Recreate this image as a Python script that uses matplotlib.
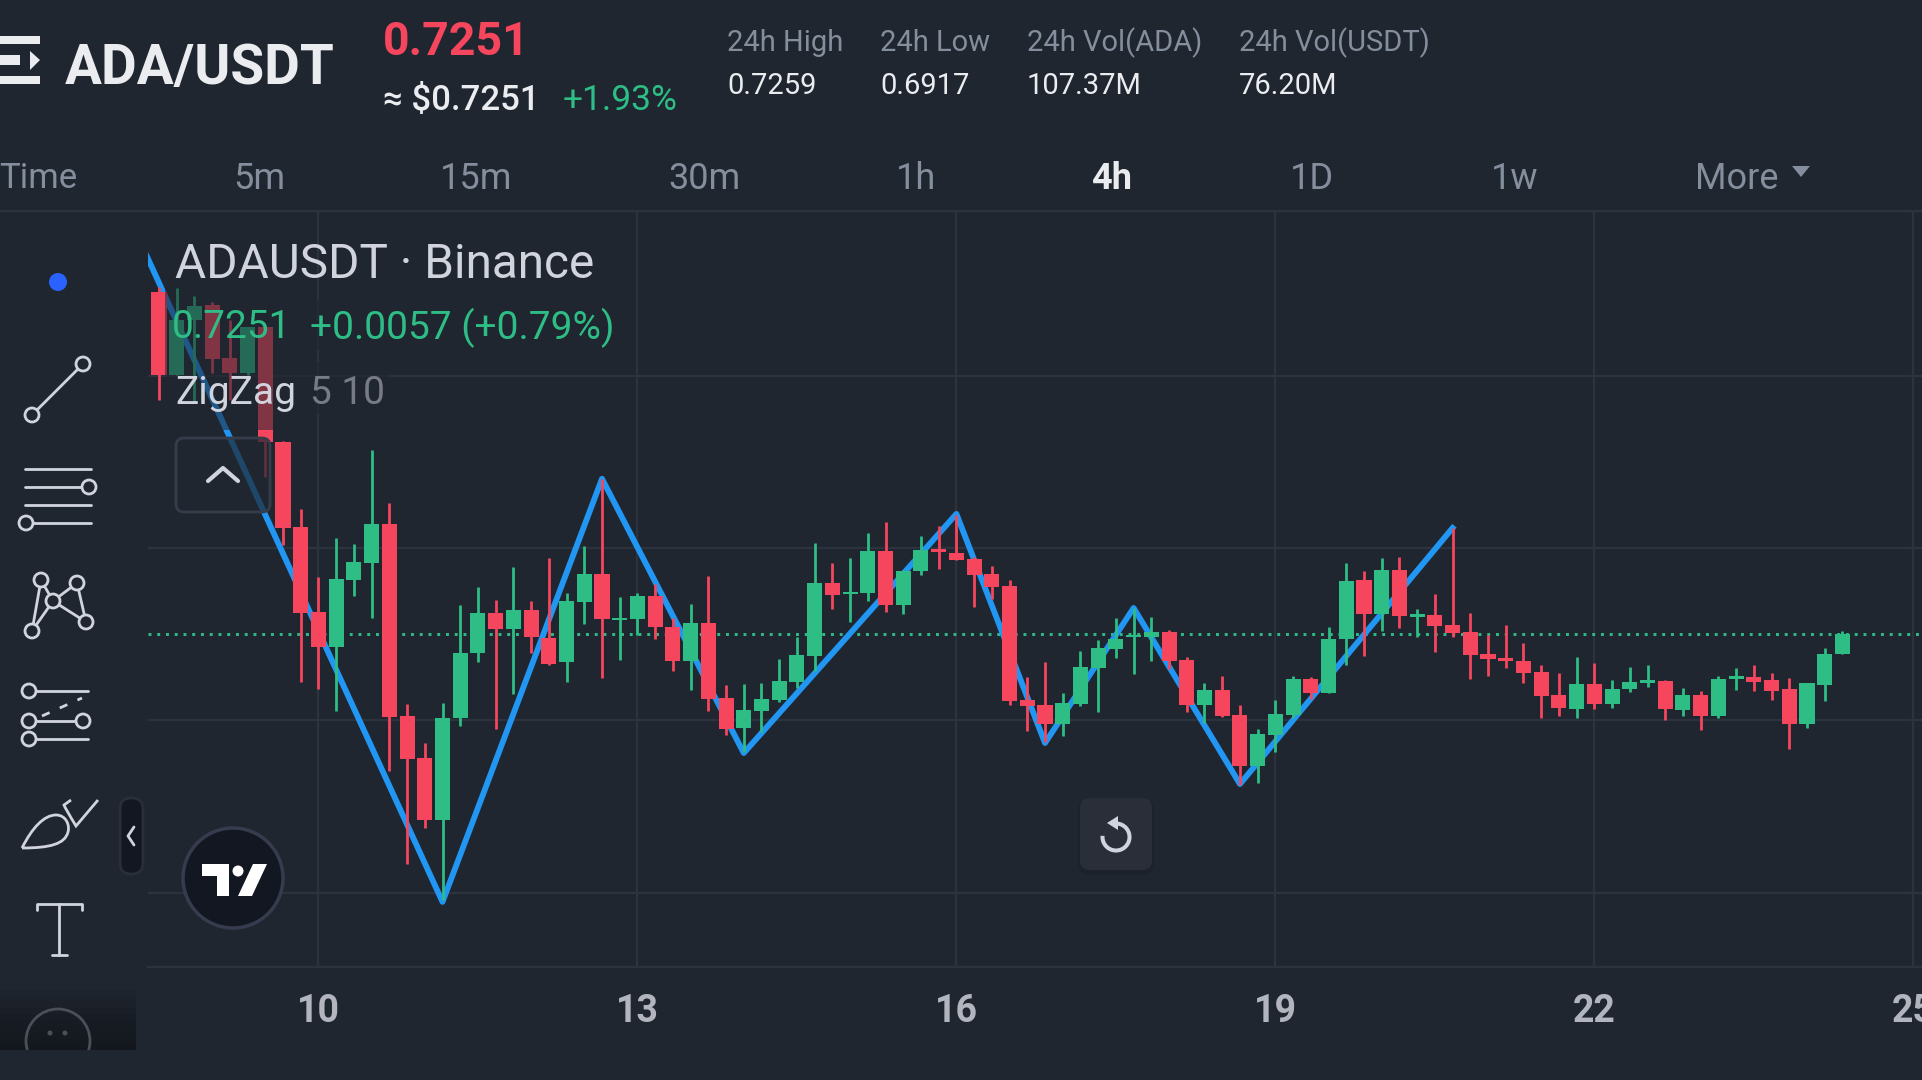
import matplotlib
matplotlib.use('Agg')
import matplotlib.pyplot as plt
from matplotlib.patches import Circle, FancyBboxPatch, Polygon, Rectangle, Arc, PathPatch
from matplotlib.path import Path

plt.rcParams['font.family'] = ['Roboto', 'DejaVu Sans']

# candles, 4h bars
opens = [.8243, .8002, .8162, .8205, .8052, .8008, .8142, .7808, .7561, .7315, .7214, .7407, .7457, .7570, .7013, .6891,
         .6711, .7008, .7196, .7312, .7266, .7321, .7240, .7170, .7344, .7425, .7291, .7294, .7361, .7271, .7172, .7283,
         .7065, .6978, .7027, .7059, .7112, .7187, .7399, .7367, .7370, .7492, .7335, .7434, .7497, .7486, .7468, .7425,
         .7390, .7059, .7045, .6990, .7048, .7152, .7208, .7243, .7243, .7257, .7175, .7045, .7089, .7016, .6868, .6958,
         .7016, .7121, .7080, .7237, .7407, .7309, .7436, .7300, .7306, .7277, .7257, .7193, .7181, .7172, .7141, .7074,
         .7033, .7106, .7048, .7092, .7109, .7115, .7030, .7074, .7013, .7121, .7126, .7118, .7092, .6990, .7103, .7193]
highs = [.8258, .8255, .8232, .8214, .8162, .8142, .8142, .7811, .7613, .7416, .7529, .7512, .7785, .7631, .7048, .6934,
         .7050, .7335, .7387, .7349, .7445, .7346, .7471, .7368, .7506, .7701, .7358, .7368, .7396, .7297, .7338, .7419,
         .7103, .7106, .7109, .7178, .7243, .7515, .7457, .7471, .7544, .7576, .7436, .7535, .7564, .7596, .7474, .7448,
         .7407, .7126, .7170, .7080, .7202, .7234, .7297, .7326, .7300, .7263, .7184, .7109, .7129, .7045, .6975, .7059,
         .7129, .7126, .7271, .7457, .7434, .7471, .7474, .7324, .7367, .7558, .7312, .7248, .7277, .7225, .7161, .7138,
         .7184, .7167, .7118, .7155, .7161, .7118, .7095, .7086, .7129, .7152, .7161, .7138, .7124, .7109, .7211, .7259]
lows = [.7930, .8002, .7921, .8008, .7930, .8002, .7706, .7509, .7112, .7092, .7027, .7361, .7297, .6853, .6583, .6688,
        .6479, .6984, .7170, .6975, .7077, .7196, .7161, .7112, .7280, .7124, .7175, .7248, .7237, .7144, .7089, .7027,
        .6958, .6908, .6967, .7053, .7095, .7144, .7324, .7286, .7346, .7315, .7309, .7422, .7439, .7465, .7329, .7352,
        .7045, .6970, .6938, .6955, .7042, .7024, .7181, .7135, .7172, .7150, .7024, .6992, .7010, .6813, .6818, .6908,
        .7007, .7062, .7080, .7161, .7187, .7260, .7269, .7243, .7199, .7243, .7121, .7129, .7152, .7109, .7007, .7013,
        .7007, .7033, .7036, .7083, .7097, .7001, .7013, .6973, .7007, .7089, .7086, .7059, .6917, .6978, .7056, .7193]
closes = [.8002, .8162, .8201, .8049, .8008, .8142, .7808, .7558, .7312, .7214, .7410, .7460, .7570, .7010, .6888, .6711,
          .7008, .7196, .7312, .7266, .7321, .7241, .7164, .7346, .7425, .7294, .7297, .7361, .7271, .7172, .7283, .7062,
          .6975, .7030, .7062, .7115, .7190, .7399, .7364, .7373, .7492, .7335, .7434, .7494, .7489, .7465, .7422, .7387,
          .7056, .7042, .6990, .7050, .7155, .7211, .7237, .7248, .7257, .7172, .7045, .7089, .7013, .6868, .6961, .7019,
          .7121, .7080, .7237, .7405, .7309, .7436, .7303, .7309, .7274, .7254, .7190, .7178, .7172, .7138, .7071, .7036,
          .7106, .7048, .7092, .7112, .7118, .7033, .7074, .7013, .7121, .7129, .7112, .7086, .6990, .7109, .7193, .7251]

# zigzag 5 10 pivots, bar index and price
zigzagBars = [-1, 16, 25, 33, 45, 50, 55, 61, 73]
zigzagPrices = [.8382, .6473, .7701, .6905, .7599, .6934, .7326, .6815, .7558]

lastPrice = 0.7251
dayTicks = [9, 27, 45, 63, 81, 99]
dayLabels = ['10', '13', '16', '19', '22', '25']
priceTicks = [0.65, 0.70, 0.75, 0.80]

tabs = ['5m', '15m', '30m', '1h', '4h', '1D', '1w', 'More']
statNames = ['24h High', '24h Low', '24h Vol(ADA)', '24h Vol(USDT)']
statValues = ['0.7259', '0.6917', '107.37M', '76.20M']

BG = '#1f2630'
GRID = '#2d333e'
RED = '#f6465d'
GREEN = '#2ebd85'
BLUE = '#2196f3'
GREY = '#848e9c'
WHITE = '#eaecef'
ICON = '#d1d4dc'

fig = plt.figure(figsize=(19.22, 10.8), dpi=100, facecolor=BG)

# chart area
ax = fig.add_axes([148 / 1922, 113 / 1080, 1774 / 1922, 756 / 1080], facecolor=BG)
ax.set_xlim(-0.62, 99.49)
ax.set_ylim(0.6284, 0.8478)
ax.set_xticks(dayTicks)
ax.set_xticklabels(dayLabels)
ax.set_yticks(priceTicks)
ax.set_yticklabels([])
ax.tick_params(length=0)
ax.tick_params(axis='x', pad=19, labelsize=27, labelcolor='#b2b5be')
for label in ax.get_xticklabels():
    label.set_fontweight('bold')
ax.grid(True, color=GRID, lw=1.6)
ax.set_axisbelow(True)
for side in ['top', 'left', 'right']:
    ax.spines[side].set_visible(False)
ax.spines['bottom'].set_color(GRID)
ax.spines['bottom'].set_linewidth(1.6)

ax.plot([-0.62, 99.49], [lastPrice, lastPrice], color=GREEN, lw=2.1, ls=(0, (1, 2)),
        dash_capstyle='butt', zorder=2)
ax.plot(zigzagBars, zigzagPrices, color=BLUE, lw=4.2, solid_joinstyle='round', zorder=3)

for i in range(len(opens)):
    color = GREEN if closes[i] >= opens[i] else RED
    ax.vlines(i, lows[i], highs[i], color=color, lw=2.0, zorder=4)
    ax.bar(i, abs(closes[i] - opens[i]), bottom=min(opens[i], closes[i]), width=0.85, color=color, zorder=5)

# everything else is laid out in screen pixels
ui = fig.add_axes([0, 0, 1, 1], facecolor='none')
ui.set_xlim(0, 1922)
ui.set_ylim(1080, 0)
ui.axis('off')


def txt(x, y, s, size, color, weight='normal', ha='left'):
    ui.text(x, y, s, fontsize=size, color=color, fontweight=weight, ha=ha, va='center')


def line(xs, ys, lw=2.0, color=ICON, **kw):
    ui.plot(xs, ys, color=color, lw=lw, solid_capstyle='round', **kw)


def knob(x, y, r=7):
    ui.add_patch(Circle((x, y), r, fc=BG, ec=ICON, lw=2.0, zorder=6))


# header
ui.add_patch(Rectangle((0, 36), 40, 8, fc=WHITE))
ui.add_patch(Rectangle((0, 76), 40, 8, fc=WHITE))
ui.add_patch(Rectangle((0, 55), 20, 10, fc=WHITE))
ui.add_patch(Polygon([(30, 51), (40, 60), (30, 70)], fc=WHITE))
txt(65, 69, 'ADA/USDT', 39.5, WHITE, 'bold')
txt(383, 42, '0.7251', 33.5, RED, 'bold')
txt(383, 100, '≈ $0.7251', 25, WHITE, 'medium')
txt(563, 100, '+1.93%', 25.5, GREEN)

statX = [727, 880, 1027, 1239]
for i in range(len(statNames)):
    txt(statX[i], 43, statNames[i], 21, GREY)
    txt(statX[i], 86, statValues[i], 21, WHITE)

# timeframe row
txt(-1, 179, 'Time', 25, GREY)
tabX = [259, 476, 704, 916, 1112, 1312, 1515, 1737]
for i in range(len(tabs)):
    if tabs[i] == '4h':
        txt(tabX[i], 179, tabs[i], 26, WHITE, 'bold', 'center')
    else:
        txt(tabX[i], 179, tabs[i], 26, GREY, ha='center')
ui.add_patch(Polygon([(1792, 166), (1810, 166), (1801, 177)], fc=GREY, joinstyle='round'))
ui.plot([0, 1922], [211, 211], color=GRID, lw=1.6)

# dimmed backing behind the chart legend
ui.add_patch(Rectangle((165, 240), 135, 190, fc=BG, alpha=0.55, lw=0))
ui.add_patch(Rectangle((300, 300), 320, 50, fc=BG, alpha=0.55, lw=0))
ui.add_patch(Rectangle((300, 362), 90, 52, fc=BG, alpha=0.55, lw=0))
txt(175, 265, 'ADAUSDT · Binance', 34.4, ICON)
txt(172, 328, '0.7251', 28, GREEN)
txt(310, 328, '+0.0057 (+0.79%)', 28, GREEN)
txt(175, 394, 'ZigZag', 28, ICON)
txt(310, 394, '5 10', 28, '#787b86')

# collapse button
ui.add_patch(FancyBboxPatch((176, 438), 94, 74, boxstyle='round,pad=0,rounding_size=8',
                            fc=BG, alpha=0.7, lw=0))
ui.add_patch(FancyBboxPatch((176, 438), 94, 74, boxstyle='round,pad=0,rounding_size=8',
                            fc='none', ec='#363c4a', lw=2.0))
line([208, 223, 238], [481, 468, 481], lw=3.0)

# drawing toolbar
ui.add_patch(Circle((58, 282), 9, fc='#2962ff', lw=0))

line([32, 83], [415, 364])
knob(32, 415)
knob(83, 364)

line([25, 91], [469, 469])
line([25, 91], [487, 487])
line([25, 91], [505, 505])
line([25, 91], [523, 523])
knob(89, 487)
knob(26, 523)

line([41, 32, 53, 41], [580, 631, 601, 580])
line([53, 77, 86, 53], [601, 583, 622, 601])
for px, py in [(41, 580), (77, 583), (53, 601), (32, 631), (86, 622)]:
    knob(px, py)

line([29, 88], [691, 691])
line([29, 83], [721, 721])
line([29, 88], [739, 739])
ui.plot([42, 82], [716, 698], color=ICON, lw=2.0, ls=(0, (3, 4)))
for px, py in [(29, 691), (29, 721), (83, 721), (29, 739)]:
    knob(px, py)

brush = Path([(22, 848), (32, 828), (44, 815), (56, 815), (66, 815), (70, 825), (68, 832),
              (65, 844), (50, 848), (22, 848)],
             [Path.MOVETO] + [Path.CURVE4] * 9)
ui.add_patch(PathPatch(brush, fc='none', ec=ICON, lw=2.0))
handle = Path([(71, 800), (64, 805), (65, 808), (76, 826), (98, 800)],
              [Path.MOVETO, Path.LINETO, Path.CURVE3, Path.CURVE3, Path.LINETO])
ui.add_patch(PathPatch(handle, fc='none', ec=ICON, lw=2.0))

line([37, 37, 82, 82], [910, 904, 904, 910])
line([59, 59], [904, 955])
line([52, 67], [955, 955])

# faded bottom of the toolbar with the half hidden smiley
fade = ['#1e242e', '#1c222b', '#1b2029', '#191e27', '#181c25', '#171b23', '#161a21', '#151920', '#14181f', '#14171e']
for i in range(len(fade)):
    ui.add_patch(Rectangle((0, 990 + 6 * i), 136, 6, fc=fade[i], lw=0))
face = Circle((58, 1041), 32, fc='none', ec='#4a4f5a', lw=2.0)
ui.add_patch(face)
face.set_clip_path(Rectangle((0, 990), 136, 60, transform=ui.transData))
ui.add_patch(Circle((50, 1033), 2.5, fc='#4a4f5a', lw=0))
ui.add_patch(Circle((65, 1033), 2.5, fc='#4a4f5a', lw=0))

ui.add_patch(FancyBboxPatch((120, 798), 23, 76, boxstyle='round,pad=0,rounding_size=11',
                            fc='#131722', ec='#2a2e39', lw=2.0))
line([134, 128, 134], [827, 836, 845], lw=2.0)

# tradingview badge
ui.add_patch(Circle((233, 878), 50, fc='#131722', ec='#363c4e', lw=2.5))
ui.add_patch(Polygon([(202, 864), (229, 864), (229, 896), (217, 896), (217, 876), (202, 876)], fc='white', lw=0))
ui.add_patch(Circle((238, 871), 5.5, fc='white', lw=0))
ui.add_patch(Polygon([(253, 864), (267, 864), (252, 896), (238, 896)], fc='white', lw=0))

# reset button
ui.add_patch(FancyBboxPatch((1078, 799), 76, 76, boxstyle='round,pad=0,rounding_size=12',
                            fc='#1c222c', lw=0))
ui.add_patch(FancyBboxPatch((1080, 798), 72, 72, boxstyle='round,pad=0,rounding_size=10',
                            fc='#2a2e39', lw=0))
ui.add_patch(Arc((1116, 837), 27, 27, theta1=-90, theta2=185, ec=ICON, lw=2.9))
ui.add_patch(Polygon([(1107, 823), (1118, 816), (1118, 830)], fc=ICON, lw=0))

fig.savefig('out.png', dpi=100, facecolor=BG)
